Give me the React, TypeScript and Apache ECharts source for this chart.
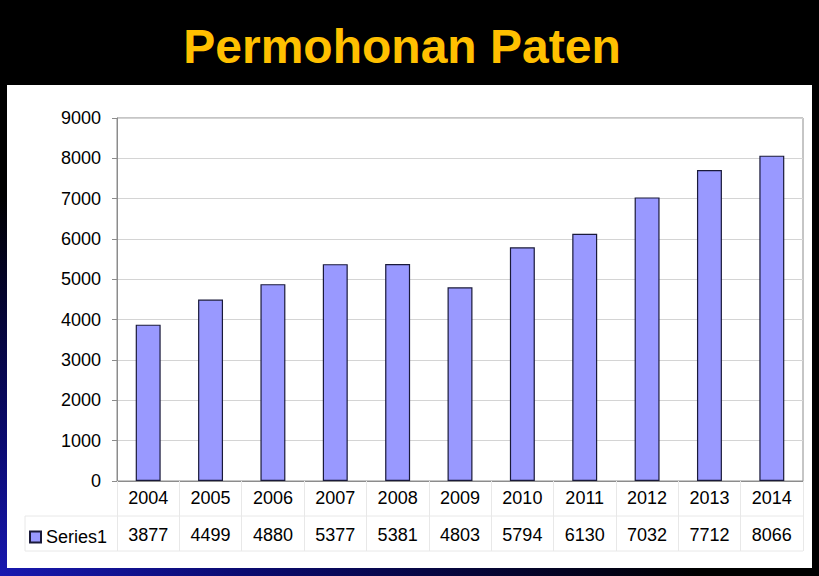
import React, { useEffect, useRef } from "react";
import * as echarts from "echarts";

const years = ["2004", "2005", "2006", "2007", "2008", "2009", "2010", "2011", "2012", "2013", "2014"];
const series1 = [3877, 4499, 4880, 5377, 5381, 4803, 5794, 6130, 7032, 7712, 8066];
const seriesName = "Series1";
const titleText = "Permohonan Paten";

const FONT = "'Liberation Sans', Arial, sans-serif";

export default function App() {
  const ref = useRef<HTMLDivElement>(null);
  useEffect(() => {
    document.body.style.margin = "0";
    const chart = echarts.init(ref.current!, null, { renderer: "svg" });
    const gridLeft = 117;
    const gridRight = 803;
    const gridBottomY = 481;
    chart.setOption({
      animation: false,
      backgroundColor: "transparent",
      textStyle: { fontFamily: FONT },
      graphic: [
        {
          type: "rect",
          z: -10,
          shape: { x: 7, y: 85, width: 805, height: 483 },
          style: { fill: "#ffffff" },
        },
        {
          type: "text",
          x: 402,
          y: 46,
          style: {
            text: titleText,
            fill: "#FFC000",
            font: "bold 48px 'Liberation Sans', Arial, sans-serif",
            textAlign: "center",
            textVerticalAlign: "middle",
          },
        },
        {
          type: "line",
          shape: { x1: 25, y1: 516, x2: gridRight, y2: 516 },
          style: { stroke: "#e8e8e8", lineWidth: 1 },
        },
        {
          type: "line",
          shape: { x1: 25, y1: 551, x2: gridRight, y2: 551 },
          style: { stroke: "#e8e8e8", lineWidth: 1 },
        },
        {
          type: "line",
          shape: { x1: 25, y1: 516, x2: 25, y2: 551 },
          style: { stroke: "#e8e8e8", lineWidth: 1 },
        },
      ],
      grid: {
        left: gridLeft,
        right: 819 - gridRight,
        top: 118,
        bottom: 576 - gridBottomY,
        show: true,
        borderColor: "#8c8c8c",
        borderWidth: 1,
        backgroundColor: "transparent",
      },
      legend: {
        data: [seriesName],
        left: 29,
        top: 528,
        padding: 0,
        itemWidth: 11,
        itemHeight: 11,
        icon: "rect",
        textStyle: { fontSize: 18, color: "#000", fontFamily: FONT },
        itemGap: 4,
      },
      xAxis: [
        {
          type: "category",
          data: years,
          position: "bottom",
          axisLine: { show: true, lineStyle: { color: "#8c8c8c" } },
          axisTick: { show: true, length: 70, lineStyle: { color: "#e8e8e8" } },
          axisLabel: { fontSize: 18, color: "#000", margin: 8, fontFamily: FONT },
          splitLine: { show: false },
        },
        {
          type: "category",
          data: series1.map((v) => String(v)),
          position: "bottom",
          offset: 37,
          axisLine: { show: false },
          axisTick: { show: false },
          axisLabel: { fontSize: 18, color: "#000", margin: 8, fontFamily: FONT },
          splitLine: { show: false },
        },
      ],
      yAxis: {
        type: "value",
        min: 0,
        max: 9000,
        interval: 1000,
        axisLine: { show: true, lineStyle: { color: "#8c8c8c" } },
        axisTick: { show: true, length: 5, lineStyle: { color: "#8c8c8c" } },
        axisLabel: {
          fontSize: 18,
          color: "#000",
          margin: 16,
          fontFamily: FONT,
          formatter: (v: number) => String(v),
        },
        splitLine: { show: true, lineStyle: { color: "#d4d4d4" } },
      },
      series: [
        {
          name: seriesName,
          type: "bar",
          xAxisIndex: 0,
          data: series1,
          barWidth: "40%",
          itemStyle: { color: "#9999FF", borderColor: "#1a1a3a", borderWidth: 1.2 },
        },
      ],
    });
    return () => chart.dispose();
  }, []);
  return (
    <div
      style={{
        position: "absolute",
        left: 0,
        top: 0,
        width: 819,
        height: 576,
        background:
          "radial-gradient(ellipse 700px 380px at 0% 100%, #1818b0 0%, #0a0a70 35%, #000000 100%)",
      }}
    >
      <div ref={ref} style={{ width: 819, height: 576 }} />
    </div>
  );
}
